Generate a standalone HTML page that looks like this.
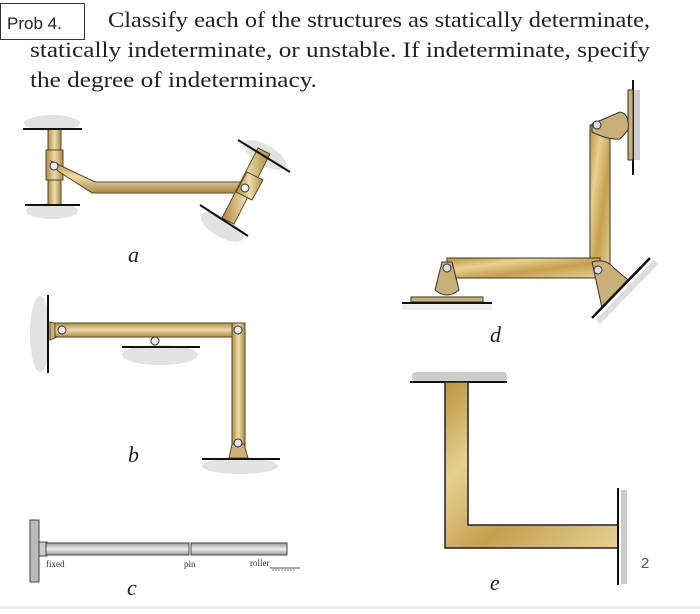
<!DOCTYPE html>
<html><head><meta charset="utf-8"><style>
html,body{margin:0;padding:0;background:#fff;width:700px;height:614px;overflow:hidden}
</style></head><body>
<svg width="700" height="614" viewBox="0 0 700 614" xmlns="http://www.w3.org/2000/svg">
<defs>
<linearGradient id="gh" x1="0" y1="0" x2="0" y2="1"><stop offset="0" stop-color="#a98a48"/><stop offset="0.5" stop-color="#eedcaa"/><stop offset="1" stop-color="#a98a48"/></linearGradient>
<linearGradient id="gv" x1="0" y1="0" x2="1" y2="0"><stop offset="0" stop-color="#a98a48"/><stop offset="0.5" stop-color="#eedcaa"/><stop offset="1" stop-color="#a98a48"/></linearGradient>
<linearGradient id="gd" x1="0" y1="0" x2="1" y2="1"><stop offset="0" stop-color="#b89540"/><stop offset="0.3" stop-color="#e8d090"/><stop offset="0.6" stop-color="#c4a050"/><stop offset="1" stop-color="#e8d090"/></linearGradient>
<linearGradient id="gs" x1="0" y1="0" x2="0" y2="1"><stop offset="0" stop-color="#999"/><stop offset="0.5" stop-color="#eee"/><stop offset="1" stop-color="#999"/></linearGradient>
</defs>
<!-- header -->
<rect x="0.5" y="3.5" width="84" height="36" fill="#fff" stroke="#333"/>
<text x="7" y="29" font-family="Liberation Sans, sans-serif" font-size="17" fill="#222">Prob 4.</text>
<g font-family="Liberation Serif, serif" font-size="22" fill="#222">
<text x="108" y="27" textLength="542" lengthAdjust="spacingAndGlyphs">Classify each of the structures as statically determinate,</text>
<text x="30" y="57" textLength="620" lengthAdjust="spacingAndGlyphs">statically indeterminate, or unstable. If indeterminate, specify</text>
<text x="30" y="87" textLength="287" lengthAdjust="spacingAndGlyphs">the degree of indeterminacy.</text>
</g>
<!-- a -->
<ellipse cx="52" cy="123" rx="28" ry="8" fill="#e2e2e2"/>
<ellipse cx="52" cy="211" rx="26" ry="8" fill="#e2e2e2"/>
<rect x="48" y="129" width="13" height="76" fill="url(#gv)" stroke="#5a4a20"/>
<rect x="46" y="150" width="17" height="30" fill="url(#gv)" stroke="#5a4a20"/>
<line x1="23" y1="129" x2="82" y2="129" stroke="#111" stroke-width="2"/>
<line x1="25" y1="205" x2="80" y2="205" stroke="#111" stroke-width="2"/>
<polygon points="51,161 58,171 92,193 248,193 248,182 95,182" fill="url(#gh)" stroke="#5a4a20"/>
<circle cx="54" cy="166" r="4" fill="#eee" stroke="#333"/>
<ellipse cx="265" cy="155" rx="24" ry="10" transform="rotate(30 265 155)" fill="#e2e2e2"/>
<ellipse cx="222" cy="227" rx="24" ry="10" transform="rotate(30 222 227)" fill="#e2e2e2"/>
<polygon points="258,148 270,154 234,224 222,218" fill="url(#gv)" stroke="#5a4a20"/>
<polygon points="247,172 263,180 252,200 236,192" fill="url(#gv)" stroke="#5a4a20"/>
<line x1="238" y1="140" x2="290" y2="172" stroke="#111" stroke-width="2"/>
<line x1="200" y1="205" x2="248" y2="236" stroke="#111" stroke-width="2"/>
<circle cx="245" cy="188" r="4" fill="#eee" stroke="#333"/>
<text x="128" y="262" font-family="Liberation Serif, serif" font-style="italic" font-size="22" fill="#222">a</text>
<!-- b -->
<ellipse cx="40" cy="334" rx="10" ry="38" fill="#e2e2e2"/>
<line x1="48" y1="295" x2="48" y2="373" stroke="#111" stroke-width="2"/>
<polygon points="50,322 62,325 62,335 50,340" fill="#c9b07a" stroke="#5a4a20"/>
<rect x="55" y="323" width="190" height="14" fill="url(#gh)" stroke="#5a4a20"/>
<rect x="232" y="323" width="13" height="128" fill="url(#gv)" stroke="#5a4a20"/>
<circle cx="62" cy="330" r="4" fill="#eee" stroke="#333"/>
<circle cx="238" cy="330" r="4" fill="#eee" stroke="#333"/>
<ellipse cx="160" cy="355" rx="38" ry="10" fill="#e2e2e2"/>
<line x1="122" y1="347" x2="200" y2="347" stroke="#111" stroke-width="2"/>
<circle cx="155" cy="341" r="4" fill="#eee" stroke="#333"/>
<polygon points="232,444 244,444 248,458 229,458" fill="#c9b07a" stroke="#5a4a20"/>
<circle cx="238" cy="443" r="4" fill="#eee" stroke="#333"/>
<ellipse cx="240" cy="466" rx="38" ry="8" fill="#e2e2e2"/>
<line x1="202" y1="459" x2="280" y2="459" stroke="#111" stroke-width="2"/>
<text x="128" y="462" font-family="Liberation Serif, serif" font-style="italic" font-size="22" fill="#222">b</text>
<!-- c -->
<rect x="30" y="520" width="9" height="62" fill="#bbb" stroke="#444"/>
<rect x="39" y="542" width="8" height="14" fill="#ccc" stroke="#444"/>
<rect x="46" y="543" width="143" height="12" fill="url(#gs)" stroke="#444"/>
<rect x="191" y="543" width="96" height="12" fill="url(#gs)" stroke="#444"/>
<g font-family="Liberation Serif, serif" font-size="9" fill="#333">
<text x="46" y="567">fixed</text><text x="184" y="567">pin</text><text x="250" y="566">roller</text></g>
<line x1="270" y1="568" x2="300" y2="568" stroke="#555"/>
<line x1="272" y1="570" x2="296" y2="570" stroke="#888" stroke-dasharray="2 1"/>
<text x="127" y="595" font-family="Liberation Serif, serif" font-style="italic" font-size="22" fill="#222">c</text>
<!-- d -->
<rect x="634" y="90" width="6" height="70" fill="#ccc"/>
<line x1="633" y1="80" x2="633" y2="175" stroke="#111" stroke-width="2"/>
<rect x="628" y="90" width="5" height="70" fill="#c9b07a" stroke="#333"/>
<rect x="590" y="125" width="20" height="150" fill="url(#gd)" stroke="#333"/>
<path d="M592,124 L620,112 Q630,114 628,130 L620,139 Q608,140 592,132 Z" fill="#c9b07a" stroke="#333"/>
<circle cx="597" cy="125" r="4" fill="#ddd" stroke="#333"/>
<rect x="447" y="258" width="153" height="20" fill="url(#gd)" stroke="#333"/>
<path d="M442,262 L452,262 L459,290 Q447,300 435,290 Z" fill="#c9b07a" stroke="#333"/>
<circle cx="447" cy="268" r="4" fill="#ddd" stroke="#333"/>
<rect x="411" y="297" width="72" height="5" fill="#c9b07a" stroke="#333"/>
<line x1="402" y1="303" x2="492" y2="303" stroke="#111" stroke-width="2"/>
<rect x="402" y="304" width="90" height="6" fill="#eee"/>
<line x1="598" y1="322" x2="656" y2="262" stroke="#ddd" stroke-width="6"/>
<path d="M592,262 Q606,258 614,268 L628,280 L602,308 Z" fill="#c9b07a" stroke="#333"/>
<circle cx="598" cy="270" r="4" fill="#ddd" stroke="#333"/>
<line x1="592" y1="318" x2="650" y2="258" stroke="#111" stroke-width="2.5"/>
<text x="490" y="342" font-family="Liberation Serif, serif" font-style="italic" font-size="22" fill="#222">d</text>
<!-- e -->
<rect x="412" y="372" width="95" height="10" rx="4" fill="#ccc"/>
<line x1="410" y1="382" x2="507" y2="382" stroke="#111" stroke-width="2"/>
<rect x="621" y="490" width="6" height="94" fill="#ccc"/>
<path d="M445,382 L468,382 L468,525 L618,525 L618,548 L445,548 Z" fill="url(#gd)" stroke="#222" stroke-width="1.5"/>
<line x1="618" y1="488" x2="618" y2="585" stroke="#111" stroke-width="2"/>
<text x="641" y="568" font-family="Liberation Sans, sans-serif" font-size="15" fill="#555">2</text>
<text x="490" y="590" font-family="Liberation Serif, serif" font-style="italic" font-size="22" fill="#222">e</text>
<rect x="0" y="606" width="700" height="3" fill="#eee"/>
</svg>
</body></html>
